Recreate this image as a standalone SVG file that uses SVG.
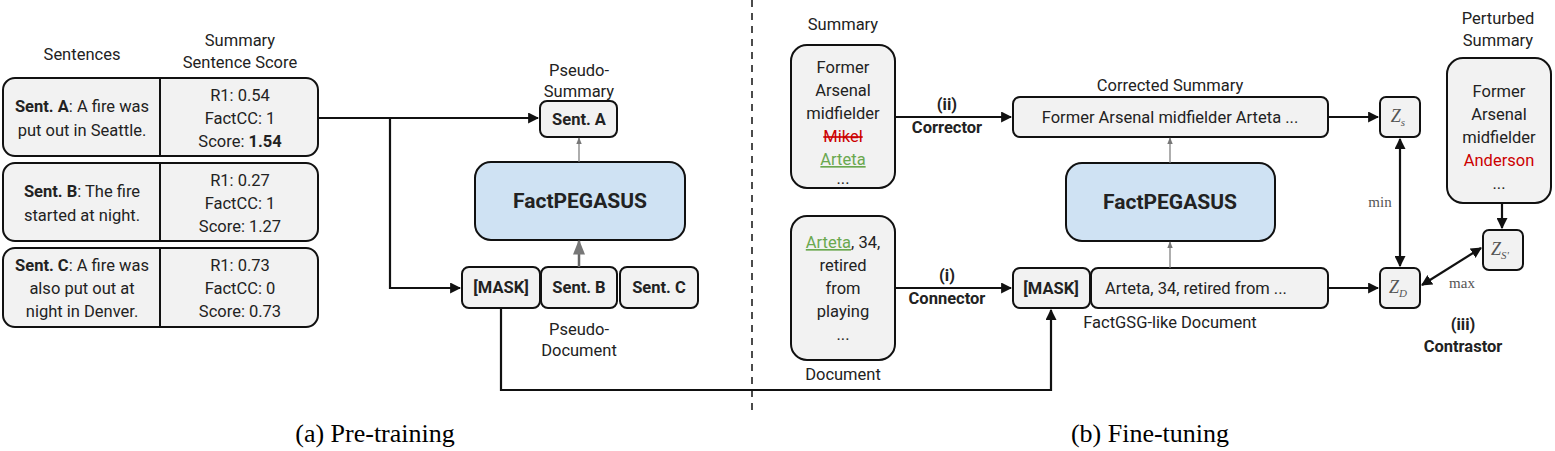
<svg xmlns="http://www.w3.org/2000/svg" width="1555" height="451" viewBox="0 0 1555 451">
<style>
text{font-family:Roboto,"Liberation Sans",sans-serif;font-size:16.5px;fill:#222;text-anchor:middle}
.b{font-weight:bold}
.box{fill:#f2f2f2;stroke:#111;stroke-width:2}
.fp{fill:#cfe2f3;stroke:#111;stroke-width:2}
.ln{fill:none;stroke:#111;stroke-width:2.2}
.thin{fill:none;stroke:#777;stroke-width:1.2}
.cap{font-family:"Liberation Serif",serif;font-size:26px;fill:#000}
.m{font-family:"Liberation Serif",serif;font-style:italic;font-size:18px;fill:#555}
.ms{font-family:"Liberation Serif",serif;font-size:15px;fill:#555}
</style>
<defs>
<marker id="ah" viewBox="0 0 10 10" refX="9" refY="5" markerWidth="5" markerHeight="5" orient="auto-start-reverse"><path d="M0,0L10,5L0,10z" fill="#111"/></marker>
<marker id="ag" viewBox="0 0 10 10" refX="9" refY="5" markerWidth="6" markerHeight="6" orient="auto"><path d="M0,1L10,5L0,9z" fill="#777"/></marker>
</defs>
<g id="headers">
<text x="82" y="60">Sentences</text>
<text x="240" y="46">Summary</text>
<text x="240" y="68">Sentence Score</text>
<text x="579" y="76">Pseudo-</text>
<text x="579" y="97">Summary</text>
<text x="579" y="335">Pseudo-</text>
<text x="579" y="356">Document</text>
</g>
<g id="rowA"><rect class="box" x="3" y="78" width="315" height="78" rx="12"/><line x1="160" y1="78" x2="160" y2="156" stroke="#111" stroke-width="2"/>
<text x="82" y="112"><tspan class="b">Sent. A</tspan>: A fire was</text><text x="82" y="136">put out in Seattle.</text>
<text x="240" y="101">R1: 0.54</text><text x="240" y="124">FactCC: 1</text><text x="240" y="147">Score: <tspan class="b">1.54</tspan></text></g>
<g id="rowB"><rect class="box" x="3" y="163" width="315" height="78" rx="12"/><line x1="160" y1="163" x2="160" y2="241" stroke="#111" stroke-width="2"/>
<text x="82" y="197"><tspan class="b">Sent. B</tspan>: The fire</text><text x="82" y="221">started at night.</text>
<text x="240" y="186">R1: 0.27</text><text x="240" y="209">FactCC: 1</text><text x="240" y="232">Score: 1.27</text></g>
<g id="rowC"><rect class="box" x="3" y="248" width="315" height="79" rx="12"/><line x1="160" y1="248" x2="160" y2="327" stroke="#111" stroke-width="2"/>
<text x="82" y="271"><tspan class="b">Sent. C</tspan>: A fire was</text><text x="82" y="294">also put out at</text><text x="82" y="317">night in Denver.</text>
<text x="240" y="271">R1: 0.73</text><text x="240" y="294">FactCC: 0</text><text x="240" y="317">Score: 0.73</text></g>
<g id="sentA"><rect class="box" x="540" y="101" width="77" height="36" rx="7"/><text class="b" x="579" y="125">Sent. A</text></g>
<g id="fp1"><rect class="fp" x="475" y="162" width="210" height="78" rx="16"/><text class="b" x="580" y="208" style="font-size:21px">FactPEGASUS</text></g>
<g id="mask1"><rect class="box" x="462" y="267" width="78" height="41" rx="7"/><text class="b" x="501" y="293">[MASK]</text></g>
<g id="sentB"><rect class="box" x="541" y="267" width="76" height="41" rx="7"/><text class="b" x="579" y="293">Sent. B</text></g>
<g id="sentC"><rect class="box" x="620" y="267" width="78" height="41" rx="7"/><text class="b" x="659" y="293">Sent. C</text></g>
<line x1="752" y1="0" x2="752" y2="410" stroke="#111" stroke-width="1.5" stroke-dasharray="7,6"/>
<text class="cap" x="375" y="442">(a) Pre-training</text>
<text class="cap" x="1150" y="442">(b) Fine-tuning</text>
<g id="summary"><text x="843" y="30">Summary</text><rect class="box" x="791" y="45" width="104" height="143" rx="16"/>
<text x="843" y="73">Former</text><text x="843" y="96">Arsenal</text><text x="843" y="119">midfielder</text>
<text x="843" y="142" style="fill:#c00;text-decoration:line-through">Mikel</text>
<text x="843" y="165" style="fill:#6aa84f;text-decoration:underline">Arteta</text><text x="843" y="184">...</text></g>
<g id="document"><rect class="box" x="791" y="216" width="104" height="144" rx="16"/>
<text x="843" y="248"><tspan style="fill:#6aa84f;text-decoration:underline">Arteta</tspan>, 34,</text><text x="843" y="271">retired</text><text x="843" y="294">from</text><text x="843" y="317">playing</text><text x="843" y="340">...</text>
<text x="843" y="380">Document</text></g>
<g id="corrected"><text x="1170" y="91">Corrected Summary</text><rect class="box" x="1013" y="97" width="315" height="40" rx="7"/><text x="1170" y="123">Former Arsenal midfielder Arteta ...</text></g>
<g id="fp2"><rect class="fp" x="1066" y="163" width="209" height="78" rx="16"/><text class="b" x="1170" y="209" style="font-size:21px">FactPEGASUS</text></g>
<g id="mask2"><rect class="box" x="1013" y="268" width="77" height="40" rx="7"/><text class="b" x="1051" y="294">[MASK]</text></g>
<g id="factgsg"><rect class="box" x="1091" y="268" width="237" height="40" rx="7"/><text x="1196" y="294">Arteta, 34, retired from ...</text><text x="1170" y="328">FactGSG-like Document</text></g>
<g id="zs"><rect class="box" x="1380" y="97" width="40" height="40" rx="6"/><text class="m" x="1398" y="122">Z<tspan style="font-size:11px" dy="4">s</tspan></text></g>
<g id="zd"><rect class="box" x="1380" y="268" width="40" height="40" rx="6"/><text class="m" x="1398" y="293">Z<tspan style="font-size:11px" dy="4">D</tspan></text></g>
<g id="perturbed"><text x="1498" y="24">Perturbed</text><text x="1498" y="46">Summary</text><rect class="box" x="1447" y="58" width="104" height="145" rx="16"/>
<text x="1499" y="97">Former</text><text x="1499" y="120">Arsenal</text><text x="1499" y="143">midfielder</text><text x="1499" y="166" style="fill:#c00">Anderson</text><text x="1499" y="189">...</text></g>
<g id="zsp"><rect class="box" x="1483" y="230" width="40" height="40" rx="6"/><text class="m" x="1500" y="255">Z<tspan style="font-size:11px" dy="4">S'</tspan></text></g>
<g id="labels">
<text class="b" x="947" y="110">(ii)</text><text class="b" x="947" y="133">Corrector</text>
<text class="b" x="947" y="281">(i)</text><text class="b" x="947" y="304">Connector</text>
<text class="ms" x="1380" y="207">min</text><text class="ms" x="1462" y="288">max</text>
<text class="b" x="1463" y="330">(iii)</text><text class="b" x="1463" y="352">Contrastor</text>
</g>
<g id="connectors">
<path class="ln" d="M318,118H538" marker-end="url(#ah)"/>
<path class="ln" d="M390,118V288H460" marker-end="url(#ah)"/>
<path class="thin" d="M579,162V138" marker-end="url(#ag)"/>
<path d="M579,267V241" fill="none" stroke="#666" stroke-width="2.5" marker-end="url(#ag)"/>
<path class="ln" d="M501,308V390H1051V310" marker-end="url(#ah)"/>
<path class="ln" d="M895,117H1011" marker-end="url(#ah)"/>
<path class="ln" d="M895,288H1011" marker-end="url(#ah)"/>
<path class="thin" d="M1170,163V138" marker-end="url(#ag)"/>
<path class="thin" d="M1170,268V242" marker-end="url(#ag)"/>
<path class="ln" d="M1328,117H1378" marker-end="url(#ah)"/>
<path class="ln" d="M1328,288H1378" marker-end="url(#ah)"/>
<path class="ln" d="M1400,139V266" marker-start="url(#ah)" marker-end="url(#ah)"/>
<path class="ln" d="M1502,203V228" marker-end="url(#ah)"/>
<path class="ln" d="M1422,285L1481,248" marker-start="url(#ah)" marker-end="url(#ah)"/>
</g>
</svg>
